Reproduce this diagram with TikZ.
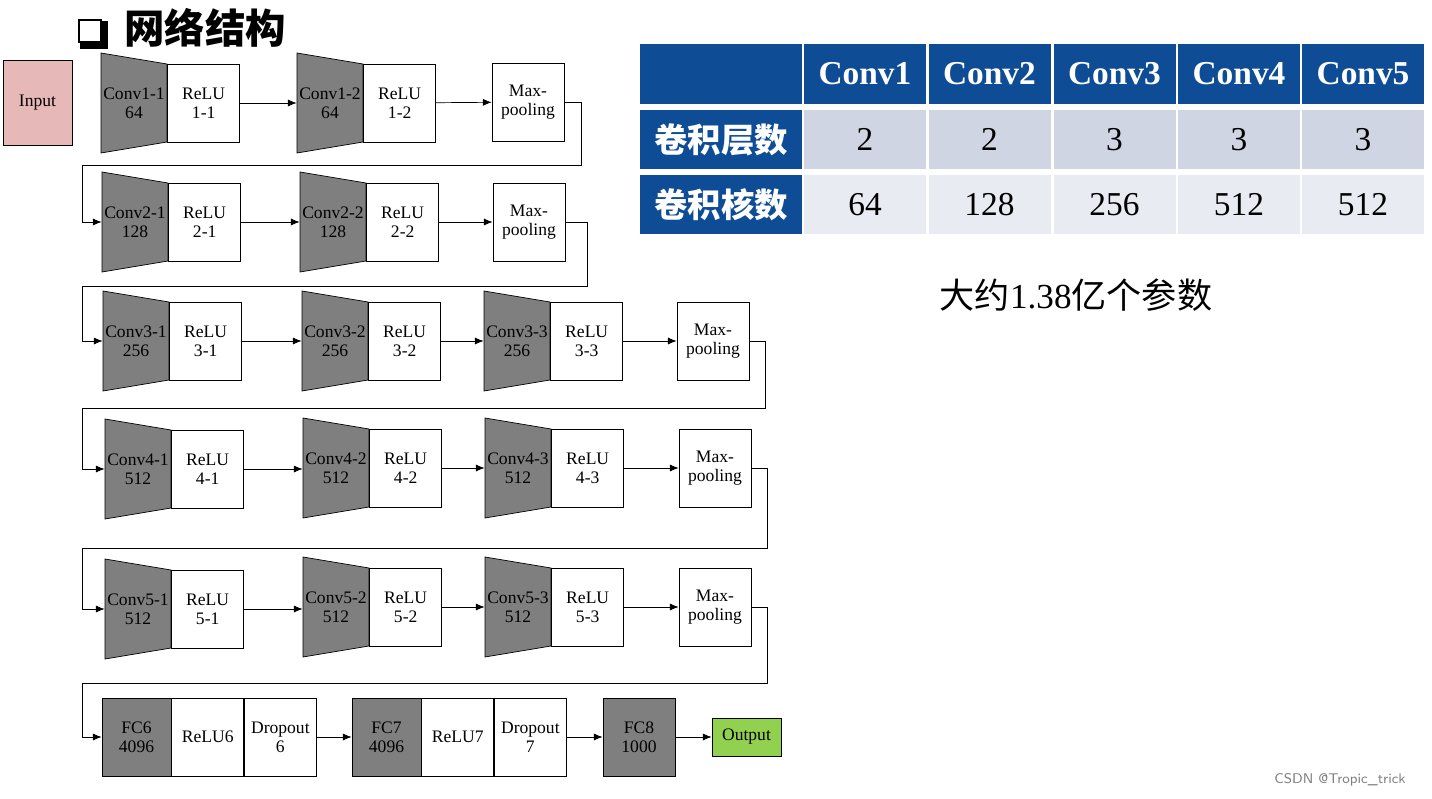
\documentclass[tikz,border=0pt]{standalone}
\usepackage{fontspec}
\setmainfont{Liberation Serif}
\newfontfamily\cjk{Noto Sans CJK SC}
\usetikzlibrary{positioning,arrows.meta}
\definecolor{convgray}{HTML}{7F7F7F}
\definecolor{inpink}{HTML}{E6B8B7}
\definecolor{outgreen}{HTML}{92D050}
\definecolor{tblue}{HTML}{0F4C96}
\definecolor{tgrayA}{HTML}{CFD5E3}
\definecolor{tgrayB}{HTML}{E9EBF2}
\tikzset{
  box/.style={draw, fill=white, minimum width=1.44cm, minimum height=1.56cm, align=center, inner sep=0pt, font=\fontsize{10}{11}\selectfont},
  convlbl/.style={minimum width=1.32cm, minimum height=1.56cm, align=center, inner sep=0pt, font=\fontsize{10}{11}\selectfont},
  arr/.style={-{Latex[length=5pt,width=4pt]}, thin},
  hcell/.style={fill=tblue, text=white, minimum width=2.44cm, minimum height=1.2cm, inner sep=0pt, font=\fontsize{19}{20}\selectfont\bfseries},
  dcell/.style={minimum width=2.44cm, minimum height=1.2cm, inner sep=0pt, font=\fontsize{19}{20}\selectfont}
}
% conv block: name, left x, centre y, label
\newcommand{\convblk}[4]{%
  \fill[convgray, draw=black, thin] ({#2},{#3-50}) -- ({#2+66},{#3-39}) -- ({#2+66},{#3+39}) -- ({#2},{#3+50}) -- cycle;
  \node[convlbl] (#1) at ({#2+33},#3) {#4};}
\begin{document}
\begin{tikzpicture}[x=0.02cm, y=-0.02cm]
\useasboundingbox (0,0) rectangle (1432,798);
% title
\fill (80,21) rectangle (108,49);
\node[draw, fill=white, line width=1.5pt, minimum size=0.44cm, inner sep=0pt] (bullet) at (90,31) {};
\node[anchor=west, inner sep=0pt, font=\fontsize{23}{24}\selectfont\cjk\bfseries] (title) at (124,28) {网络结构};
\node[draw, fill=inpink, minimum width=1.38cm, minimum height=1.7cm, font=\fontsize{10}{11}\selectfont] (in) at (37.5,103) {Input};

% row 1
\convblk{c11}{101}{103}{Conv1-1\\64}
\node[box, right=0pt of c11] (r11) {ReLU\\1-1};
\convblk{c12}{297}{103}{Conv1-2\\64}
\node[box, right=0pt of c12] (r12) {ReLU\\1-2};
\node[box] (mp1) at (528,102) {Max-\\pooling};
% row 2
\convblk{c21}{102}{222}{Conv2-1\\128}
\node[box, right=0pt of c21] (r21) {ReLU\\2-1};
\convblk{c22}{300}{222}{Conv2-2\\128}
\node[box, right=0pt of c22] (r22) {ReLU\\2-2};
\node[box] (mp2) at (529,222) {Max-\\pooling};
% row 3
\convblk{c31}{103}{341}{Conv3-1\\256}
\node[box, right=0pt of c31] (r31) {ReLU\\3-1};
\convblk{c32}{302}{341}{Conv3-2\\256}
\node[box, right=0pt of c32] (r32) {ReLU\\3-2};
\convblk{c33}{484}{341}{Conv3-3\\256}
\node[box, right=0pt of c33] (r33) {ReLU\\3-3};
\node[box] (mp3) at (713,341) {Max-\\pooling};
% row 4
\convblk{c41}{105}{469}{Conv4-1\\512}
\node[box, right=0pt of c41] (r41) {ReLU\\4-1};
\convblk{c42}{303}{468}{Conv4-2\\512}
\node[box, right=0pt of c42] (r42) {ReLU\\4-2};
\convblk{c43}{485}{468}{Conv4-3\\512}
\node[box, right=0pt of c43] (r43) {ReLU\\4-3};
\node[box] (mp4) at (715,468) {Max-\\pooling};
% row 5
\convblk{c51}{105}{609}{Conv5-1\\512}
\node[box, right=0pt of c51] (r51) {ReLU\\5-1};
\convblk{c52}{303}{607}{Conv5-2\\512}
\node[box, right=0pt of c52] (r52) {ReLU\\5-2};
\convblk{c53}{485}{607}{Conv5-3\\512}
\node[box, right=0pt of c53] (r53) {ReLU\\5-3};
\node[box] (mp5) at (715,607) {Max-\\pooling};
% row 6
\node[box, fill=convgray, minimum width=1.38cm] (fc6) at (136.5,737) {FC6\\4096};
\node[box, right=0pt of fc6] (r6) {ReLU6};
\node[box, right=0pt of r6] (d6) {Dropout\\6};
\node[box, fill=convgray, minimum width=1.38cm] (fc7) at (386.5,737) {FC7\\4096};
\node[box, right=0pt of fc7] (r7) {ReLU7};
\node[box, right=0pt of r7] (d7) {Dropout\\7};
\node[box, fill=convgray] (fc8) at (639,737) {FC8\\1000};
\node[draw, fill=outgreen, minimum width=1.38cm, minimum height=0.76cm, font=\fontsize{10}{11}\selectfont] (out) at (746.5,737) {Output};

% arrows
\draw[arr] (r11) -- (r11 -| c12.west);
\draw[arr] (r12) -- (mp1);
\draw[arr] (r21) -- (r21 -| c22.west);
\draw[arr] (r22) -- (mp2);
\draw[arr] (r31) -- (r31 -| c32.west);
\draw[arr] (r32) -- (r32 -| c33.west);
\draw[arr] (r33) -- (mp3);
\draw[arr] (r41) -- (r41 -| c42.west);
\draw[arr] (r42) -- (r42 -| c43.west);
\draw[arr] (r43) -- (mp4);
\draw[arr] (r51) -- (r51 -| c52.west);
\draw[arr] (r52) -- (r52 -| c53.west);
\draw[arr] (r53) -- (mp5);
\draw[arr] (d6) -- (fc7);
\draw[arr] (d7) -- (fc8);
\draw[arr] (fc8) -- (out);
% row returns
\draw[arr] (mp1.east) -- ++(17,0) |- (82,165) |- (c21.west);
\draw[arr] (mp2.east) -- ++(22,0) |- (82,286) |- (c31.west);
\draw[arr] (mp3.east) -- ++(16,0) |- (82,408) |- (c41.west);
\draw[arr] (mp4.east) -- ++(16,0) |- (82,548) |- (c51.west);
\draw[arr] (mp5.east) -- ++(16,0) |- (82,683) |- (fc6.west);

% table
\node[hcell, minimum width=3.24cm] (h0) at (721,74) {};
\node[hcell, minimum width=3.24cm] (l1) at (721,139.5) {\cjk 卷积层数};
\node[hcell, minimum width=3.24cm] (l2) at (721,204.5) {\cjk 卷积核数};
\foreach \i/\cx/\na/\nb in {1/865/2/64, 2/989.5/2/128, 3/1114.5/3/256, 4/1239/3/512, 5/1363/3/512}{
  \node[hcell] (h\i) at (\cx,74) {Conv\i};
  \node[dcell, fill=tgrayA] (a\i) at (\cx,139.5) {\na};
  \node[dcell, fill=tgrayB] (b\i) at (\cx,204.5) {\nb};
}
\node[font=\fontsize{20}{22}\selectfont] (param) at (1076,295) {{\cjk 大约}1.38{\cjk 亿个参数}};
\node[text=gray, font=\fontsize{8}{9}\sffamily] (mark) at (1340,780) {CSDN @Tropic\_trick};
\end{tikzpicture}
\end{document}
